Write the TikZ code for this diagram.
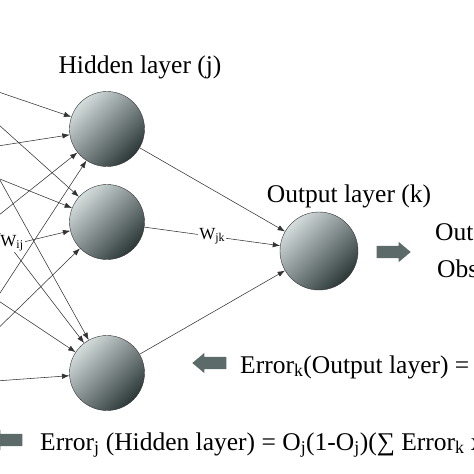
\documentclass[tikz,border=0pt]{standalone}
\usepackage{fontspec}
\setmainfont{Liberation Serif}
\usetikzlibrary{arrows.meta, shapes.arrows, positioning}
\definecolor{nodedark}{RGB}{44,56,56}
\definecolor{nodelight}{RGB}{212,220,220}
\definecolor{blockgrey}{RGB}{92,106,106}
\tikzset{> = { Latex[length = 2.6mm, width = 1.9mm] }}

\begin{document}
\begin{tikzpicture}[x = 1pt, y = -1pt,
		neuron/.style = { draw = black!80, circle, minimum size = 75pt, inner sep = 0pt, shading = axis, top color = nodelight, bottom color = nodedark, shading angle = 45 },
		link/.style = { ->, draw = black!80, line width = 0.55pt },
		weight/.style = { fill = white, inner sep = 1pt, font = \fontsize{17}{20}\selectfont },
		caption/.style = { inner sep = 0pt, font = \fontsize{25.5}{30}\selectfont },
		block/.style = { single arrow, fill = blockgrey, inner sep = 6pt, single arrow head extend = 4pt, single arrow tip angle = 80, minimum height = 34pt }]
		\useasboundingbox (0,0) rectangle (474,474);
		\clip (0,0) rectangle (474,474);

		% inputs lie outside the crop
		\coordinate (i1) at (-60,72);
		\coordinate (i2) at (-60,155);
		\coordinate (i3) at (-60,262);
		\coordinate (i4) at (-60,385);

		\node [neuron]                     (h1)  at (107,129) {};
		\node [neuron]                     (h2)  at (107,222) {};
		\node [neuron]                     (h3)  at (107,373) {};
		\node [neuron, minimum size = 78pt] (out) at (319,251) {};

		\foreach \i in {1,...,4}
			\foreach \j in {1,2,3}
				\draw [link] (i\i) -- (h\j);

		\draw [link] (h1) -- (out);
		\draw [link] (h2) -- node [weight] {W\textsubscript{jk}} (out);
		\draw [link] (h3) -- (out);

		\node [weight] (wij) at (12,243) {W\textsubscript{ij}};

		\node [caption, anchor = base] (hidtitle) at (140,73)  {Hidden layer (j)};
		\node [caption, anchor = base] (outtitle) at (349,202) {Output layer (k)};

		% block arrows
		\node [block]                              (toobs) at (390,252) {};
		\node [block, shape border rotate = 180]   (backk) at (213,363) {};
		\node [block, shape border rotate = 180]   (backj) at (9,440)   {};

		\node [caption, anchor = base west] (obs1) at (435,240) {Out};
		\node [caption, anchor = base west] (obs2) at (437,277) {Obs};
		\node [caption, anchor = base west] (errk) at (240,373) {Error\textsubscript{k}(Output layer) =};
		\node [caption, anchor = base west] (errj) at (40,450)  {Error\textsubscript{j} (Hidden layer) = O\textsubscript{j}(1-O\textsubscript{j})(∑ Error\textsubscript{k} x};
	\end{tikzpicture}
\end{document}
